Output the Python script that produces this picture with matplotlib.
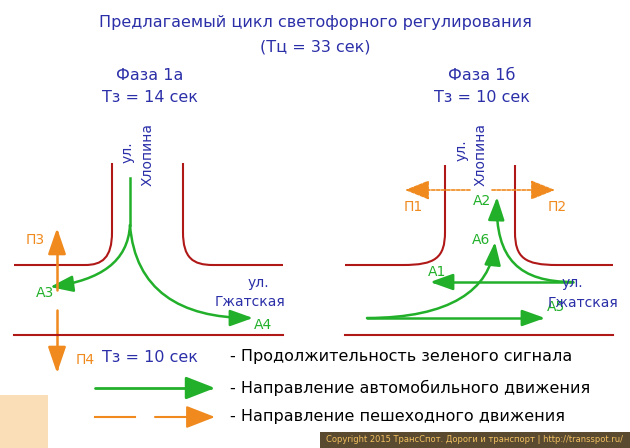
import matplotlib
matplotlib.use("Agg")
import matplotlib.pyplot as plt
from matplotlib.path import Path
from matplotlib.patches import FancyArrowPatch, PathPatch, Rectangle

title_lines = ["Предлагаемый цикл светофорного регулирования", "(Тц = 33 сек)"]
phase_names = ["Фаза 1а", "Фаза 1б"]
phase_times = ["Тз = 14 сек", "Тз = 10 сек"]
legend_texts = ["- Продолжительность зеленого сигнала",
                "- Направление автомобильного движения",
                "- Направление пешеходного движения"]
legend_time = "Тз = 10 сек"

BLUE = "#2b2fa8"; RED = "#b01818"; GREEN = "#22b02a"; ORANGE = "#f08a1e"
FONT = "DejaVu Sans"

fig = plt.figure(figsize=(6.3, 4.48), dpi=100)
ax = fig.add_axes([0, 0, 1, 1])
ax.set_xlim(0, 630); ax.set_ylim(448, 0); ax.axis("off")

def T(x, y, s, c=BLUE, size=11, **kw):
    ax.text(x, y, s, color=c, fontsize=size, ha=kw.pop("ha", "center"), va=kw.pop("va", "center"), family=FONT, **kw)

T(315, 22, title_lines[0], size=11.5)
T(315, 47, title_lines[1], size=11.5)
for x, n, t in zip([150, 482], phase_names, phase_times):
    T(x, 75, n, size=11.5); T(x, 98, t, size=11.5)

def road(pts, codes):
    ax.add_patch(PathPatch(Path(pts, codes), fill=False, ec=RED, lw=1.5))

M, L, C = Path.MOVETO, Path.LINETO, Path.CURVE4
def intersection(xl, xr, ytop, x0, x1, xcl, xcr):
    road([(xl, ytop), (xl, 232), (xl, 258), (xl-10, 265), (xcl, 265), (x0, 265)], [M, L, C, C, C, L])
    road([(xr, ytop), (xr, 232), (xr, 258), (xr+10, 265), (xcr, 265), (x1, 265)], [M, L, C, C, C, L])
    ax.plot([x0, x1], [335, 335], color=RED, lw=1.5)

intersection(112, 183, 163, 14, 283, 85, 213)
intersection(445, 515, 165, 345, 613, 403, 557)

def arrow(verts, codes, color=GREEN, lw=1.8, ls="-", hw=5, hl=14):
    p = FancyArrowPatch(path=Path(verts, codes), arrowstyle=f"-|>,head_width={hw/2.5},head_length={hl/2.5}",
                        color=color, lw=lw, linestyle=ls, mutation_scale=2.5)
    ax.add_patch(p)

# left phase
ax.plot([130, 130], [178, 225], color=GREEN, lw=1.8)
arrow([(130, 225), (128, 262), (100, 280), (50, 287)], [M, C, C, C])
arrow([(130, 225), (135, 290), (180, 318), (253, 318)], [M, C, C, C])
arrow([(57, 290), (57, 228)], [M, L], color=ORANGE, hw=5.5, hl=16)
arrow([(57, 310), (57, 373)], [M, L], color=ORANGE, hw=5.5, hl=16)

# right phase
arrow([(573, 282), (430, 282)], [M, L])
arrow([(573, 282), (520, 282), (495, 260), (497, 197)], [M, C, C, C])
arrow([(367, 318), (450, 318), (490, 290), (495, 242)], [M, C, C, C])
arrow([(367, 318), (545, 318)], [M, L])
arrow([(470, 190), (405, 190)], [M, L], color=ORANGE, lw=1.2, ls=(0, (2, 1)), hw=6, hl=15)
arrow([(492, 190), (555, 190)], [M, L], color=ORANGE, lw=1.2, ls=(0, (2, 1)), hw=6, hl=15)

# labels
for x, y, s in [(35, 240, "П3"), (85, 360, "П4"), (413, 207, "П1"), (557, 207, "П2")]:
    T(x, y, s, c=ORANGE, size=10)
for x, y, s in [(45, 293, "А3"), (263, 325, "А4"), (437, 272, "А1"), (481, 240, "А6"),
                (482, 201, "А2"), (556, 307, "А5")]:
    T(x, y, s, c=GREEN, size=10)
for xu, xh, yu, yh in [(128, 148, 152, 155), (462, 481, 150, 155)]:
    T(xu, yu, "ул.", c=BLUE, size=10, rotation=90)
    T(xh, yh, "Хлопина", c=BLUE, size=10, rotation=90)
T(258, 283, "ул.", size=10); T(250, 302, "Гжатская", size=10)
T(572, 283, "ул.", size=10); T(583, 303, "Гжатская", size=10)

# legend
T(150, 357, legend_time, size=11.5)
arrow([(95, 388), (215, 388)], [M, L], lw=2, hw=7, hl=18)
ax.plot([95, 135], [417, 417], color=ORANGE, lw=1.5)
arrow([(155, 417), (215, 417)], [M, L], color=ORANGE, lw=1.5, hw=7, hl=18)
for y, s in zip([357, 388, 417], legend_texts):
    T(230, y, s, c="black", size=11.5, ha="left")

# watermark
ax.add_patch(Rectangle((0, 395), 48, 53, color="#f6c98a", alpha=0.6, lw=0))
ax.add_patch(Rectangle((320, 432), 310, 16, color="#5a4a30", lw=0))
T(475, 440, "Copyright 2015 ТрансСпот. Дороги и транспорт | http://transspot.ru/", c="#f2c060", size=6)

fig.savefig("out.png", dpi=100)
